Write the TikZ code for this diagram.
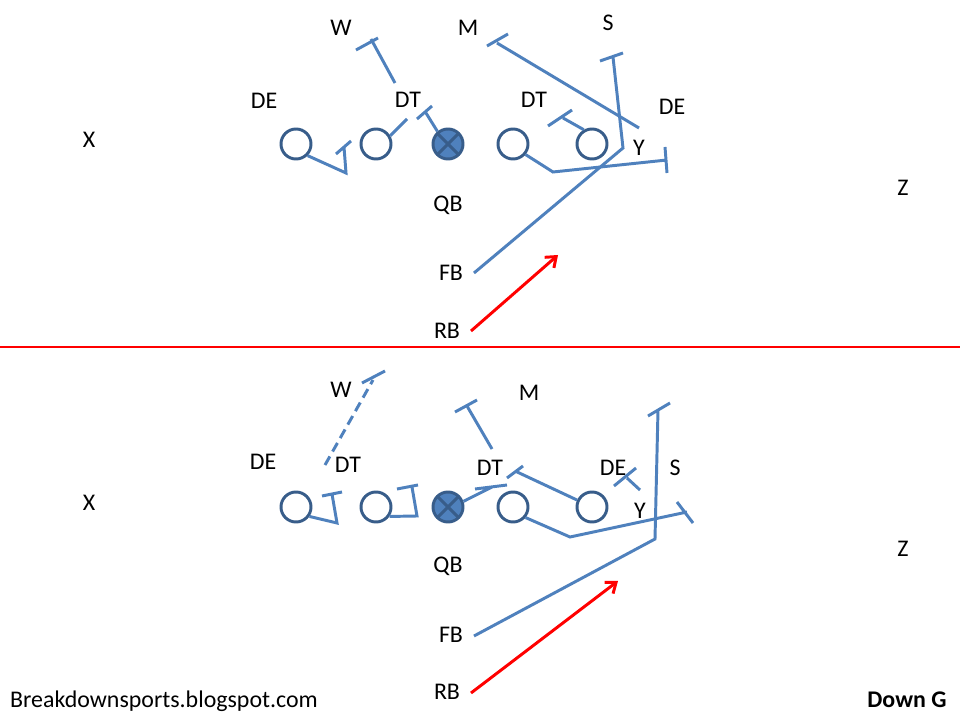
\documentclass[tikz,border=0pt]{standalone}
\usepackage{fontspec}
\setmainfont{Carlito}
\usetikzlibrary{arrows.meta}
\definecolor{playblue}{RGB}{79,129,189}
\definecolor{ringblue}{RGB}{56,93,138}

\begin{document}
\begin{tikzpicture}[x=0.025cm,y=-0.025cm,
	font=\fontsize{17pt}{20pt}\selectfont,
	man/.style={circle,draw=ringblue,line width=2.1pt,fill=white,minimum size=0.75cm,inner sep=0pt},
	ctr/.style={man,fill=playblue,path picture={
		\draw[ringblue,line width=2.1pt] (path picture bounding box.north east) -- (path picture bounding box.south west)
		(path picture bounding box.north west) -- (path picture bounding box.south east);}},
	blk/.style={playblue,line width=2.1pt},
	run/.style={red,line width=2.1pt,-{Straight Barb[length=6.5pt,width=10pt]}}]
		\useasboundingbox (0,0) rectangle (960,720);
		\fill [white] (0,0) rectangle (960,720);

		% ---- top: first look
		\node (xT) at (89,140) {X};
		\node (zT) at (903,188) {Z};
		\node (yT) at (639,148) {Y};
		\node (wT) at (341,28) {W};
		\node (mT) at (468,28) {M};
		\node (sT) at (608,23) {S};
		\node (deL) at (264,101) {DE};
		\node (dtL) at (408,100) {DT};
		\node (dtR) at (534,100) {DT};
		\node (deR) at (672,107) {DE};
		\node (qbT) at (448,205) {QB};
		\node (fbT) at (451,273) {FB};
		\node (rbT) at (447,331) {RB};

		\node [man] (ltT) at (296,144) {};
		\node [man] (lgT) at (376,144) {};
		\node [ctr] (cT) at (448,144) {};
		\node [man] (rgT) at (513,144) {};
		\node [man] (rtT) at (592,144) {};

		\draw [blk] (395,83) -- (371,39) (356,50) -- (378,38);
		\draw [blk] (ltT.-45) -- (346,173) -- (344,147) (336,154) -- (351,141);
		\draw [blk] (lgT.30) -- (407,119);
		\draw [blk] (cT.130) -- (426,113) (417,119) -- (432,106);
		\draw [blk] (639,128) -- (497,43) (487,46) -- (508,34);
		\draw [blk] (474,273) -- (623,148) -- (613,57) (600,61) -- (623,53);
		\draw [blk] (rgT.-40) -- (553,172) -- (667,160) (665,147) -- (667,173);
		\draw [blk] (rtT.120) -- (563,118) (548,126) -- (572,110);
		\draw [run] (471,331) -- (558,255);

		\draw [red, line width=1.5pt] (0,347) -- (960,347);

		% ---- bottom: second look
		\node (xB) at (89,503) {X};
		\node (zB) at (903,549) {Z};
		\node (yB) at (640,511) {Y};
		\node (wB) at (341,390) {W};
		\node (mB) at (529,393) {M};
		\node (sB) at (675,468) {S};
		\node (deL2) at (263,462) {DE};
		\node (dtL2) at (348,465) {DT};
		\node (dtR2) at (490,468) {DT};
		\node (deR2) at (613,468) {DE};
		\node (qbB) at (448,566) {QB};
		\node (fbB) at (451,635) {FB};
		\node (rbB) at (447,692) {RB};

		\node [man] (ltB) at (296,507) {};
		\node [man] (lgB) at (376,507) {};
		\node [ctr] (cB) at (448,507) {};
		\node [man] (rgB) at (513,507) {};
		\node [man] (rtB) at (592,507) {};

		\draw [blk, dash pattern=on 7pt off 4pt] (325,465) -- (373,380);
		\draw [blk] (362,383) -- (385,371);
		\draw [blk] (ltB.-35) -- (337,523) -- (332,494) (322,496) -- (342,492);
		\draw [blk] (lgB.-35) -- (417,516) -- (412,487) (397,489) -- (418,485);
		\draw [blk] (cB.20) -- (492,487) (475,489) -- (507,485);
		\draw [blk] (492,449) -- (467,406) (455,412) -- (477,400);
		\draw [blk] (rtB.155) -- (515,471) (507,478) -- (523,466);
		\draw [blk] (640,490) -- (627,478) (614,486) -- (636,468);
		\draw [blk] (rgB.-40) -- (570,537) -- (687,512) (677,502) -- (693,523);
		\draw [blk] (474,636) -- (655,539) -- (658,410) (648,416) -- (670,403);
		\draw [run] (471,693) -- (618,581);

		\node [anchor=base] (site) at (164,707) {Breakdownsports.blogspot.com};
		\node [anchor=base, font=\fontsize{17pt}{20pt}\selectfont\bfseries] (play) at (907,707) {Down G};
\end{tikzpicture}
\end{document}
